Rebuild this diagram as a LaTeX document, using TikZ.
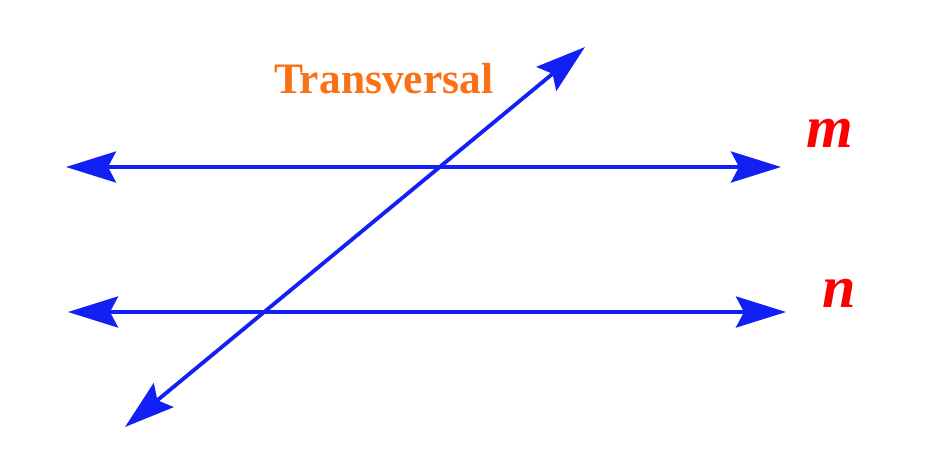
\documentclass[tikz,border=0pt]{standalone}
\usepackage{fontspec}
\setmainfont{Liberation Serif}
\usetikzlibrary{arrows.meta}
\definecolor{lineblue}{RGB}{18,32,245}
\definecolor{tranorange}{RGB}{250,112,22}
\definecolor{labelred}{RGB}{255,0,0}
\tikzset{
  parline/.style={draw=lineblue,line width=3.8pt,
    {Stealth[length=50pt,width=31pt,inset=8pt]}-{Stealth[length=50pt,width=31pt,inset=8pt]}},
  linelabel/.style={text=labelred,font=\fontsize{60}{60}\selectfont\bfseries\itshape,anchor=base,inner sep=0pt}
}
\begin{document}
\begin{tikzpicture}[x=1pt,y=-1pt]
    \useasboundingbox (0,0) rectangle (928,468);
    \coordinate (mleft) at (66,167);
    \coordinate (mright) at (781,167);
    \coordinate (nleft) at (68,312);
    \coordinate (nright) at (786,312);
    \coordinate (tbot) at (125,427);
    \coordinate (ttop) at (585,47);
    \draw[parline] (mleft) -- (mright);
    \draw[parline] (nleft) -- (nright);
    \draw[parline] (tbot) -- (ttop);
    \node[text=tranorange,font=\fontsize{43.5}{43.5}\selectfont\bfseries,anchor=base west,inner sep=0pt] (tlabel) at (274,94) {Transversal};
    \node[linelabel] (mlabel) at (830,147) {m};
    \node[linelabel] (nlabel) at (839,307) {n};
  \end{tikzpicture}
\end{document}
